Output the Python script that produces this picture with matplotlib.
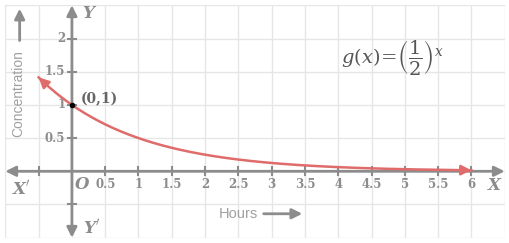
import numpy as np
import matplotlib.pyplot as plt

# data
x_ticks = [0.5, 1, 1.5, 2, 2.5, 3, 3.5, 4, 4.5, 5, 5.5, 6]
x_tick_labels = ['0.5', '1', '1.5', '2', '2.5', '3', '3.5', '4', '4.5', '5', '5.5', '6']
y_ticks = [0.5, 1, 1.5, 2]
y_tick_labels = ['0.5', '1', '1.5', '2']
base = 0.5
x_start, x_end = -0.5, 6.0
point = (0, 1)

axis_col = '#8c8c8c'
grid_col = '#e6e6e6'
curve_col = '#e06b6b'
text_col = '#6e6e6e'

fig = plt.figure(figsize=(5.1, 2.43), dpi=100)
ax = fig.add_axes([5/510, 5/243, 500/510, 233/243])
ax.set_xlim(-1.005, 6.505)
ax.set_ylim(-1.005, 2.505)
ax.axis('off')

# grid
for gx in np.arange(-1, 6.51, 0.5):
    ax.plot([gx, gx], [-1, 2.5], color=grid_col, lw=1, zorder=0)
for gy in np.arange(-1, 2.51, 0.5):
    ax.plot([-1, 6.5], [gy, gy], color=grid_col, lw=1, zorder=0)

# main axes with arrows
akw = dict(arrowstyle='-|>,head_length=0.6,head_width=0.3', color=axis_col, lw=2, shrinkA=0, shrinkB=0)
ax.annotate('', xy=(6.5, 0), xytext=(0, 0), arrowprops=akw)
ax.annotate('', xy=(-1.0, 0), xytext=(0, 0), arrowprops=akw)
ax.annotate('', xy=(0, 2.5), xytext=(0, 0), arrowprops=akw)
ax.annotate('', xy=(0, -1.0), xytext=(0, 0), arrowprops=akw)

# ticks
for t in [-0.5] + x_ticks:
    ax.plot([t, t], [-0.06, 0.06], color=axis_col, lw=1.5, zorder=2)
for t in [-0.5] + y_ticks:
    ax.plot([-0.06, 0.06], [t, t], color=axis_col, lw=1.5, zorder=2)

serif = dict(family='DejaVu Serif', color=axis_col, fontweight='bold')
for t, lab in zip(x_ticks, x_tick_labels):
    ax.text(t, -0.2, lab, ha='center', va='center', fontsize=8.5, **serif)
for t, lab in zip(y_ticks, y_tick_labels):
    ax.text(-0.1, t, lab, ha='right', va='center', fontsize=8.5, **serif)

# axis names
iserif = dict(family='DejaVu Serif', color=axis_col, fontweight='bold', style='italic', fontsize=12)
ax.text(-0.76, -0.27, "X$'$", ha='center', va='center', **iserif)
ax.text(6.35, -0.22, 'X', ha='center', va='center', **iserif)
ax.text(0.25, 2.37, 'Y', ha='center', va='center', **iserif)
ax.text(0.3, -0.85, "Y$'$", ha='center', va='center', **iserif)
ax.text(0.15, -0.2, 'O', ha='center', va='center', **iserif)

# curve
xs = np.linspace(x_start, x_end, 300)
ys = base ** xs
ax.plot(xs, ys, color=curve_col, lw=1.8, zorder=3)
ckw = dict(arrowstyle='-|>,head_length=0.6,head_width=0.3', color=curve_col, lw=1.8, shrinkA=0, shrinkB=0)
ax.annotate('', xy=(xs[-1], ys[-1]), xytext=(xs[-8], ys[-8]), arrowprops=ckw)
ax.annotate('', xy=(xs[0], ys[0]), xytext=(xs[4], ys[4]), arrowprops=ckw)

# point
ax.plot(*point, 'o', color='black', ms=3, zorder=4)
ax.text(0.13, 1.08, '(0,1)', ha='left', va='center', fontsize=10,
        family='DejaVu Serif', fontweight='bold', color='#666666')

# formula
ax.text(4.82, 1.72, r'$g(x)\!=\!\left(\dfrac{1}{2}\right)^{x}$', ha='center', va='center',
        fontsize=14, color='#555555', math_fontfamily='dejavuserif')

# side labels
ax.text(-0.8, 1.17, 'Concentration', rotation=90, ha='center', va='center',
        fontsize=10, color='#a0a0a0', family='Liberation Sans')
ax.annotate('', xy=(-0.785, 2.45), xytext=(-0.785, 1.97), arrowprops=akw)
ax.text(2.5, -0.64, 'Hours', ha='center', va='center', fontsize=10.5,
        color='#a0a0a0', family='Liberation Sans')
ax.annotate('', xy=(3.46, -0.64), xytext=(2.88, -0.64), arrowprops=akw)

fig.savefig('out.png', dpi=100)
